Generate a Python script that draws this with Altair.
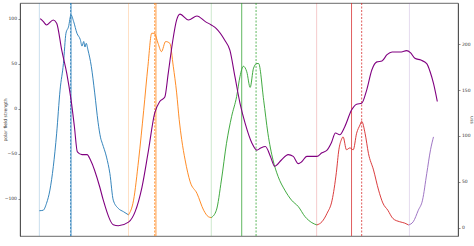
import altair as alt
import pandas as pd

# Polar field strength (left axis)
polar_year = [1976.35, 1976.7, 1977.1, 1977.9, 1978.3, 1978.9, 1979.5, 1980.0, 1980.4, 1980.75,
              1981.3, 1981.9, 1982.3, 1983.4, 1983.8, 1985.0, 1985.6, 1986.8, 1987.6, 1988.4,
              1989.1, 1989.9, 1990.5, 1991.1, 1991.5, 1992.0, 1992.5, 1992.9, 1993.9, 1994.9,
              1995.9, 1996.6, 1997.2, 1998.2, 1998.8, 1999.4, 2000.0, 2000.6, 2001.4, 2002.0,
              2002.4, 2003.0, 2003.6, 2004.1, 2004.9, 2005.7, 2006.3, 2006.9, 2007.3, 2007.9,
              2008.5, 2009.1, 2009.7, 2010.3, 2010.8, 2011.3, 2011.8, 2012.4, 2013.2, 2013.8,
              2014.4, 2015.0, 2015.6, 2016.2, 2016.8, 2017.4, 2018.0, 2018.5, 2019.1, 2019.7,
              2020.2, 2020.7, 2021.4, 2022.1, 2022.5, 2022.9, 2023.35]
polar_val = [100, 97, 93, 98.6, 95, 65, 39, 10, -20, -48,
             -51, -51, -57, -87, -101, -129, -130, -126, -114, -87,
             -50, -5, 8, 13, 39, 73, 98.6, 105, 98.6, 103,
             96.7, 93, 89, 76, 65, 35.6, 6, -16, -38, -46,
             -44, -42, -53, -64, -57, -51, -53, -61, -59, -53,
             -53, -53, -49, -46, -38, -27, -29, -20, -1.5, 5,
             6, 21, 43, 52, 53, 60, 63, 63, 63, 64.5,
             62, 56, 54, 50, 41, 28, 8]

# Smoothed sunspot number per cycle (right axis)
c21_year = [1976.25, 1976.7, 1977.1, 1977.5, 1977.9, 1978.3, 1978.7, 1979.1, 1979.4, 1979.7,
            1980.0, 1980.3, 1980.7, 1981.1, 1981.3, 1981.5, 1981.65, 1981.8, 1982.0, 1982.4,
            1982.8, 1983.2, 1983.5, 1983.7, 1984.2, 1984.6, 1985.0, 1985.6, 1986.2, 1986.8]
c21_val = [18.5, 19, 26.6, 41, 66.5, 103, 150, 179, 212, 219,
           232, 225, 212, 205, 198, 203, 197, 201, 194, 176,
           147, 115, 98, 92, 77, 59, 30, 21, 17.5, 14]
c22_year = [1986.8, 1987.4, 1988.0, 1988.6, 1989.1, 1989.55, 1989.85, 1990.3, 1990.7, 1991.2,
            1991.7, 1992.1, 1992.5, 1992.8, 1993.1, 1993.5, 1994.1, 1994.9, 1995.7, 1996.25, 1996.6]
c22_val = [14, 30, 74, 128, 176, 212, 212, 201, 192, 203,
           201, 176, 147, 118, 96, 74, 50, 37.5, 19, 12, 11]
c23_year = [1996.6, 1997.2, 1997.8, 1998.4, 1999.0, 1999.6, 2000.0, 2000.4, 2000.8, 2001.2,
            2001.6, 2002.0, 2002.2, 2002.8, 2003.3, 2003.9, 2004.5, 2005.3, 2006.1, 2006.9,
            2007.7, 2008.5, 2009.1]
c23_val = [11, 19, 52, 92, 121, 143, 165, 176, 170, 153,
           174, 179, 179, 139, 103, 74, 56, 41, 30, 23,
           12, 5.5, 3]
c24_year = [2009.1, 2009.7, 2010.3, 2010.9, 2011.4, 2011.7, 2012.0, 2012.2, 2012.6, 2013.0,
            2013.4, 2013.8, 2014.2, 2014.4, 2014.8, 2015.2, 2015.8, 2016.4, 2016.9, 2017.5,
            2018.1, 2018.9, 2019.5, 2019.95]
c24_val = [3, 6.5, 15.7, 30, 60, 85, 96, 99, 85, 87,
           85, 103, 112, 116, 103, 81, 63, 41, 27, 19,
           10, 6.5, 5, 3]
c25_year = [2019.95, 2020.5, 2021.1, 2021.6, 2022.1, 2022.55, 2022.9]
c25_val = [3, 6.5, 19, 30, 59, 85, 99]

cycles = ["21", "22", "23", "24", "25"]
cycle_colors = ["#1f77b4", "#ff7f0e", "#2ca02c", "#d62728", "#9467bd"]
color_of = dict(zip(cycles, cycle_colors))

start_year = [1976.25, 1986.8, 1996.6, 2009.07, 2020.05]
start_cycle = ["21", "22", "23", "24", "25"]
reversal_year = [1980.0, 1990.05, 2000.2, 2013.2]
max_year = [1979.95, 1989.9, 2001.9, 2014.4]
mark_cycle = ["21", "22", "23", "24"]

x_ticks = [1980, 1990, 2000, 2010, 2020]

polar_df = pd.DataFrame({"year": polar_year, "polar": polar_val})
ssn_parts = []
for cyc, ys, vs in [("21", c21_year, c21_val), ("22", c22_year, c22_val),
                    ("23", c23_year, c23_val), ("24", c24_year, c24_val),
                    ("25", c25_year, c25_val)]:
    ssn_parts.append(pd.DataFrame({"year": ys, "ssn": vs, "cycle": cyc}))
ssn_df = pd.concat(ssn_parts, ignore_index=True)
ssn_df["col"] = ssn_df["cycle"].map(color_of)
start_df = pd.DataFrame({"year": start_year, "cycle": start_cycle})
start_df["col"] = start_df["cycle"].map(color_of)
rev_df = pd.DataFrame({"year": reversal_year, "cycle": mark_cycle})
rev_df["col"] = rev_df["cycle"].map(color_of)
max_df = pd.DataFrame({"year": max_year, "cycle": mark_cycle})
max_df["col"] = max_df["cycle"].map(color_of)

xscale = alt.Scale(domain=[1973.96, 2025.8], nice=False, zero=False)
xaxis = alt.Axis(values=x_ticks, format="d", title=None, grid=False)

polar_line = alt.Chart(polar_df).mark_line(color="#800080", strokeWidth=1.1, interpolate="monotone").encode(
    x=alt.X("year:Q", scale=xscale, axis=xaxis),
    y=alt.Y("polar:Q", scale=alt.Scale(domain=[-141.4, 117.4], nice=False, zero=False),
            axis=alt.Axis(orient="left", values=[-100, -50, 0, 50, 100], format="d",
                          title="polar field strength", grid=False,
                          titleX=-13, titleBaseline="bottom")),
)

ssn_line = alt.Chart(ssn_df).mark_line(strokeWidth=0.9, interpolate="monotone").encode(
    x=alt.X("year:Q", scale=xscale, axis=None),
    y=alt.Y("ssn:Q", scale=alt.Scale(domain=[-9.05, 245], nice=False, zero=False),
            axis=alt.Axis(orient="right", values=[0, 50, 100, 150, 200], format="d",
                          title="ssn", grid=False, titleAngle=270, titlePadding=3)),
    color=alt.Color("col:N", scale=None, legend=None),
    detail="cycle:N",
)

start_rules = alt.Chart(start_df).mark_rule(strokeWidth=0.8, opacity=0.3).encode(
    x=alt.X("year:Q", scale=xscale, axis=None),
    color=alt.Color("col:N", scale=None, legend=None),
)
rev_rules = alt.Chart(rev_df).mark_rule(strokeWidth=1, opacity=0.75).encode(
    x=alt.X("year:Q", scale=xscale, axis=None),
    color=alt.Color("col:N", scale=None, legend=None),
)
max_rules = alt.Chart(max_df).mark_rule(strokeWidth=0.9, strokeDash=[2, 1.5], opacity=0.85).encode(
    x=alt.X("year:Q", scale=xscale, axis=None),
    color=alt.Color("col:N", scale=None, legend=None),
)

chart = alt.layer(start_rules, rev_rules, max_rules, ssn_line, polar_line).resolve_scale(
    y="independent"
).properties(
    width=438, height=233,
    autosize=alt.AutoSizeParams(type="none"),
    padding={"left": 20, "top": 3, "right": 16, "bottom": 10},
).configure_view(
    stroke="#444", strokeWidth=0.8
).configure_axis(
    labelFontSize=4.5, titleFontSize=4.5, labelFont="DejaVu Sans", titleFont="DejaVu Sans",
    titleFontWeight="normal", labelColor="#333", titleColor="#333",
    domainColor="#444", domainWidth=0.8, tickColor="#444", tickSize=2, tickWidth=0.6,
    labelPadding=1.5,
)

chart.save("out.html", embed_options={"renderer": "svg", "actions": False})
